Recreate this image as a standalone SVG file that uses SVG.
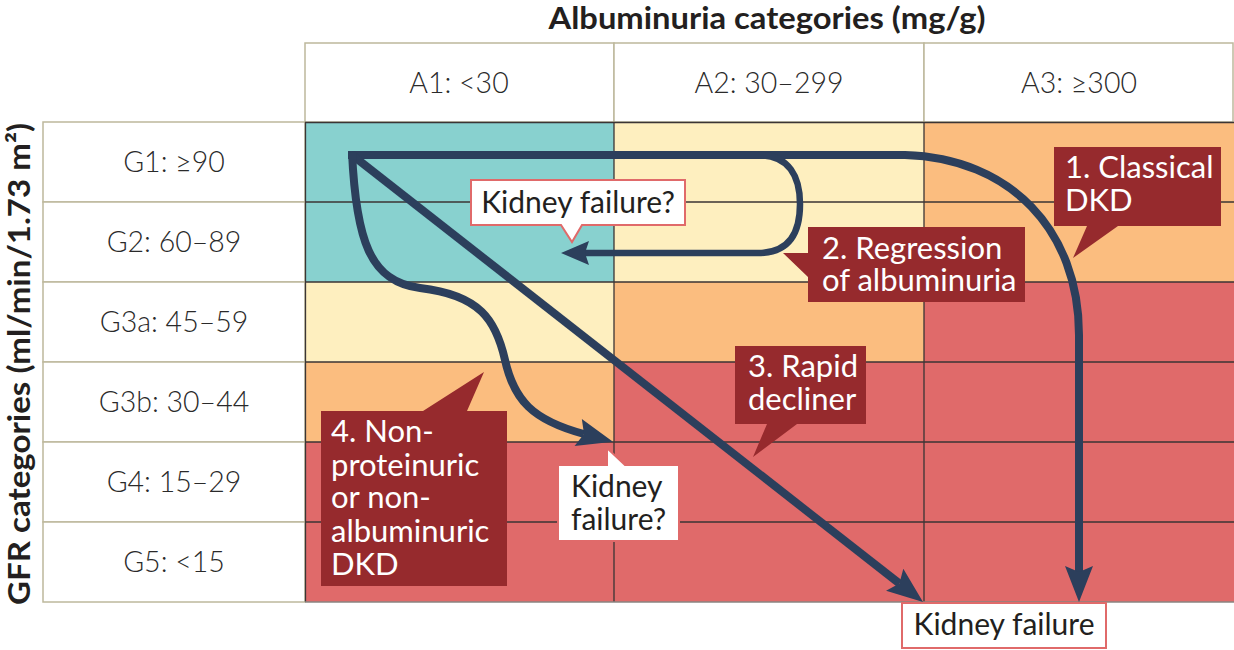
<svg xmlns="http://www.w3.org/2000/svg" width="1234" height="650" viewBox="0 0 1234 650">
<defs>
<style>
.lbl{font-family:Lato,"Liberation Sans",sans-serif;font-size:28.5px;font-weight:300;fill:#2a2a2a;text-anchor:middle}
.ttl{font-family:Lato,"Liberation Sans",sans-serif;font-size:30px;font-weight:bold;fill:#231f20;text-anchor:middle}
.hb{fill:#fff;stroke:#bdb89c;stroke-width:1.5}
.ct{fill:#88d1cf}.cy{fill:#feefbf}.co{fill:#fbbd7f}.cr{fill:#e06a6a}
.grid{stroke:#3b3535;stroke-width:1.3;fill:none}
.pth{fill:none;stroke:#2c3f5c;stroke-width:8}
.thin{stroke-width:6.5}
.callout{fill:#962a2d}
.ctext{font-family:Lato,"Liberation Sans",sans-serif;font-size:31px;fill:#fff}
.kbox{fill:#fff;stroke:#e06a6a;stroke-width:2}
.ktext{font-family:Lato,"Liberation Sans",sans-serif;font-size:30px;fill:#231f20}
</style>
<marker id="arrL" markerUnits="userSpaceOnUse" viewBox="-8 -16 42 32" markerWidth="42" markerHeight="32" refX="0" refY="0" orient="auto">
<path d="M30,0 L-6,-14 L0,0 L-6,14 Z" fill="#2c3f5c"/>
</marker>
<marker id="arrS" markerUnits="userSpaceOnUse" viewBox="-8 -14 36 28" markerWidth="36" markerHeight="28" refX="0" refY="0" orient="auto">
<path d="M24,0 L-4,-12 L0,0 L-4,12 Z" fill="#2c3f5c"/>
</marker>
</defs>
<rect width="1234" height="650" fill="#fff"/>

<text id="title-top" class="ttl" x="767" y="29" textLength="437" lengthAdjust="spacingAndGlyphs">Albuminuria categories (mg/g)</text>
<text id="title-left" class="ttl" transform="translate(30,364) rotate(-90)" textLength="482" lengthAdjust="spacingAndGlyphs">GFR categories (ml/min/1.73 m²)</text>

<g id="headers">
<g id="hA1"><rect class="hb" x="305" y="43" width="309" height="79"/><text class="lbl" x="459" y="93">A1: &lt;30</text></g>
<g id="hA2"><rect class="hb" x="614" y="43" width="310" height="79"/><text class="lbl" x="769" y="93">A2: 30–299</text></g>
<g id="hA3"><rect class="hb" x="924" y="43" width="309" height="79"/><text class="lbl" x="1079" y="93">A3: ≥300</text></g>
</g>

<g id="rows">
<g id="G1"><rect class="hb" x="43" y="122" width="262" height="80"/><text class="lbl" x="174" y="172">G1: ≥90</text></g>
<g id="G2"><rect class="hb" x="43" y="202" width="262" height="80"/><text class="lbl" x="174" y="252">G2: 60–89</text></g>
<g id="G3a"><rect class="hb" x="43" y="282" width="262" height="80"/><text class="lbl" x="174" y="332">G3a: 45–59</text></g>
<g id="G3b"><rect class="hb" x="43" y="362" width="262" height="80"/><text class="lbl" x="174" y="412">G3b: 30–44</text></g>
<g id="G4"><rect class="hb" x="43" y="442" width="262" height="80"/><text class="lbl" x="174" y="492">G4: 15–29</text></g>
<g id="G5"><rect class="hb" x="43" y="522" width="262" height="80"/><text class="lbl" x="174" y="572">G5: &lt;15</text></g>
</g>

<g id="cells">
<rect class="ct" x="305" y="122" width="309" height="160"/>
<rect class="cy" x="614" y="122" width="310" height="160"/>
<rect class="co" x="924" y="122" width="310" height="160"/>
<rect class="cy" x="305" y="282" width="309" height="80"/>
<rect class="co" x="614" y="282" width="310" height="80"/>
<rect class="cr" x="924" y="282" width="310" height="80"/>
<rect class="co" x="305" y="362" width="309" height="80"/>
<rect class="cr" x="614" y="362" width="620" height="80"/>
<rect class="cr" x="305" y="442" width="929" height="160"/>
<path class="grid" d="M305,122.5H1234M305,202H1234M305,282H1234M305,362H1234M305,442H1234M305,522H1234M614,122V602M924,122V602M305.5,122V602"/>
<path d="M305,602H1234" stroke="#8a8580" stroke-width="1.5"/>
</g>

<g id="connectors">
<path class="pth" d="M348,155 H905 C1010,158 1079,230 1079,335 V572" marker-end="url(#arrL)"/>
<path class="pth thin" d="M352,155 H758 C790,155 800,178 800,204 C800,232 790,253 758,253 H585" marker-end="url(#arrS)"/>
<path class="pth" d="M352,155 L899.4,583.5" marker-end="url(#arrL)"/>
<path class="pth" d="M352,152 C356,240 370,282 420,288 C480,295 496,320 505,360 C514,400 532,420 584,434" marker-end="url(#arrL)"/>
</g>

<g id="callout1">
<path class="callout" d="M1054,147 H1221 V226 H1118 L1073,258 L1087,226 H1054 Z"/>
<text class="ctext" x="1065" y="178">1. Classical</text>
<text class="ctext" x="1065" y="211">DKD</text>
</g>
<g id="callout2">
<path class="callout" d="M808,227 H1025 V302 H808 V277 L783,253 H808 Z"/>
<text class="ctext" x="822" y="259">2. Regression</text>
<text class="ctext" x="822" y="291">of albuminuria</text>
</g>
<g id="callout3">
<path class="callout" d="M735,346 H866 V424 H797 L753,457 L767,424 H735 Z"/>
<text class="ctext" x="748" y="377">3. Rapid</text>
<text class="ctext" x="748" y="410">decliner</text>
</g>
<g id="callout4">
<path class="callout" d="M321,411 H423 L484,372 L467,411 H507 V586 H321 Z"/>
<text class="ctext" x="331" y="442">4. Non-</text>
<text class="ctext" x="331" y="476">proteinuric</text>
<text class="ctext" x="331" y="508">or non-</text>
<text class="ctext" x="331" y="542">albuminuric</text>
<text class="ctext" x="331" y="575">DKD</text>
</g>

<g id="kf-top">
<path class="kbox" d="M471,180 H685 V225 H582 L572,242 L561,225 H471 Z"/>
<text class="ktext" x="578" y="213" text-anchor="middle">Kidney failure?</text>
</g>
<g id="kf-mid">
<path class="kbox" d="M558,465 H607 V448 L625,465 H679 V541 H558 Z"/>
<text class="ktext" x="571" y="497">Kidney</text>
<text class="ktext" x="571" y="530">failure?</text>
</g>
<g id="kf-bottom">
<rect class="kbox" x="902" y="603" width="204" height="45"/>
<text class="ktext" x="1004" y="635" text-anchor="middle">Kidney failure</text>
</g>
</svg>
